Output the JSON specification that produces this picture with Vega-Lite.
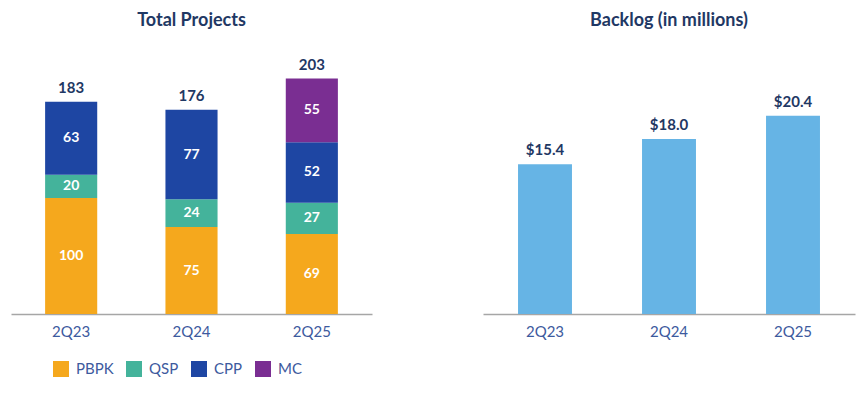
{
  "$schema": "https://vega.github.io/schema/vega-lite/v6.json",
  "background": "white",
  "padding": {"left": 11, "top": 12, "right": 5, "bottom": 0},
  "spacing": 111,
  "config": {
    "view": {"stroke": null},
    "font": "Lato",
    "axis": {"domainColor": "#a6a6a6", "domainWidth": 1.5, "ticks": false, "labelFontSize": 15, "labelColor": "#3d5a9e", "labelPadding": 10, "labelAngle": 0, "title": null, "grid": false},
    "title": {"fontSize": 18, "fontWeight": "bold", "color": "#1f3864", "offset": 4, "anchor": "middle"}
  },
  "hconcat": [
    {
      "width": 361,
      "height": 280,
      "title": "Total Projects",
      "data": {"values": [
        {"q": "2Q23", "seg": "PBPK", "rank": 1, "v": 100},
        {"q": "2Q23", "seg": "QSP", "rank": 2, "v": 20},
        {"q": "2Q23", "seg": "CPP", "rank": 3, "v": 63},
        {"q": "2Q24", "seg": "PBPK", "rank": 1, "v": 75},
        {"q": "2Q24", "seg": "QSP", "rank": 2, "v": 24},
        {"q": "2Q24", "seg": "CPP", "rank": 3, "v": 77},
        {"q": "2Q25", "seg": "PBPK", "rank": 1, "v": 69},
        {"q": "2Q25", "seg": "QSP", "rank": 2, "v": 27},
        {"q": "2Q25", "seg": "CPP", "rank": 3, "v": 52},
        {"q": "2Q25", "seg": "MC", "rank": 4, "v": 55}
      ]},
      "encoding": {
        "x": {"field": "q", "type": "nominal", "scale": {"paddingInner": 0.567, "paddingOuter": 0.2835}, "axis": {}}
      },
      "layer": [
        {
          "mark": {"type": "bar"},
          "encoding": {
            "y": {"field": "v", "type": "quantitative", "stack": "zero", "scale": {"domain": [0, 241.4], "nice": false}, "axis": null},
            "color": {"field": "seg", "type": "nominal",
              "scale": {"domain": ["PBPK", "QSP", "CPP", "MC"], "range": ["#F5A81D", "#44B39B", "#1E46A3", "#7A2E92"]},
              "legend": {"orient": "none", "legendX": 42, "legendY": 327, "direction": "horizontal", "title": null, "symbolType": "square", "symbolSize": 256, "symbolStrokeWidth": 0, "labelFontSize": 15, "labelColor": "#3d5a9e", "labelOffset": 7, "columnPadding": 12}},
            "order": {"field": "rank", "type": "quantitative"}
          }
        },
        {
          "mark": {"type": "text", "color": "white", "fontWeight": "bold", "fontSize": 14},
          "encoding": {
            "y": {"field": "v", "type": "quantitative", "stack": "zero", "bandPosition": 0.5},
            "text": {"field": "v", "type": "quantitative"},
            "order": {"field": "rank", "type": "quantitative"}
          }
        },
        {
          "mark": {"type": "text", "color": "#1f3864", "fontWeight": "bold", "fontSize": 15, "baseline": "alphabetic", "dy": -9},
          "encoding": {
            "y": {"aggregate": "sum", "field": "v", "type": "quantitative"},
            "text": {"aggregate": "sum", "field": "v", "type": "quantitative"}
          }
        }
      ]
    },
    {
      "width": 372,
      "height": 280,
      "title": "Backlog (in millions)",
      "data": {"values": [
        {"q": "2Q23", "v": 15.4},
        {"q": "2Q24", "v": 18.0},
        {"q": "2Q25", "v": 20.4}
      ]},
      "encoding": {
        "x": {"field": "q", "type": "nominal", "scale": {"paddingInner": 0.565, "paddingOuter": 0.2825}, "axis": {}},
        "y": {"field": "v", "type": "quantitative", "scale": {"domain": [0, 28.8], "nice": false}, "axis": null}
      },
      "layer": [
        {"mark": {"type": "bar", "color": "#66B4E5"}},
        {
          "mark": {"type": "text", "color": "#1f3864", "fontWeight": "bold", "fontSize": 15, "baseline": "alphabetic", "dy": -9},
          "encoding": {"text": {"field": "v", "type": "quantitative", "format": "$.1f"}}
        }
      ]
    }
  ]
}
